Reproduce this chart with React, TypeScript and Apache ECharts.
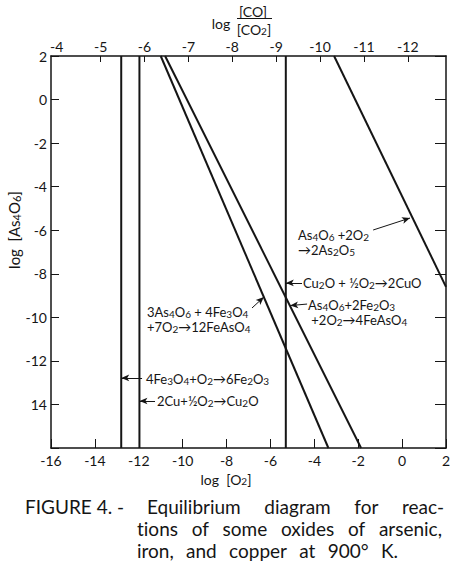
import React, { useEffect, useRef } from "react";
import * as echarts from "echarts";

// ---- axis ticks / labels ----
const yLabelMap: Record<string, string> = {
  "2": "2", "0": "0", "-2": "-2", "-4": "-4", "-6": "-6", "-8": "-8",
  "-10": "-10", "-12": "-12", "-14": "14", "-16": "",
};
const topTickValues = [-5, -6, -7, -8, -9, -10, -11, -12];
const topLabelValues = [-4, -5, -6, -7, -8, -9, -10, -11, -12];

// ---- equilibrium lines (log O2, log As4O6) ----
const feO2 = [-12.8, -12.8];
const feAs = [2, -16];
const cuO2 = [-11.97, -11.97];
const cuAs = [2, -16];
const cuoO2 = [-5.3, -5.3];
const cuoAs = [2, -16];
const fe3o4AsO2 = [-11.0, -3.36];
const fe3o4AsAs = [2, -16];
const fe2o3AsO2 = [-10.8, -1.87];
const fe2o3AsAs = [2, -16];
const as2o5O2 = [-3.1, 2];
const as2o5As = [2, -8.6];

// ---- annotation arrows [fromX, fromY, toX, toY] in data units ----
const arrowAs2o5 = [-1.32, -5.99, 0.36, -5.44];
const arrowCuo = [-4.56, -8.42, -5.3, -8.42];
const arrowFe2o3 = [-4.33, -9.39, -5.1, -9.46];
const arrowFe3o4As = [-6.84, -9.57, -6.3, -9.07];
const arrowFe = [-11.85, -12.78, -12.8, -12.78];
const arrowCu = [-11.26, -13.84, -11.97, -13.84];

// ---- reaction labels ("_d" = subscript digit) ----
const labelAs2o5 = "As_4O_6 +2O_2\n→2As_2O_5";
const labelCuo = "Cu_2O + ½O_2→2CuO";
const labelFe2o3As = "As_4O_6+2Fe_2O_3\n +2O_2→4FeAsO_4";
const labelFe3o4As = "3As_4O_6 + 4Fe_3O_4\n+7O_2→12FeAsO_4";
const labelFe = "4Fe_3O_4+O_2→6Fe_2O_3";
const labelCu = "2Cu+½O_2→Cu_2O";

// ---- caption ----
const captionLead = "FIGURE 4. -";
const captionRow1 = "Equilibrium diagram for reac-";
const captionRow2 = "t\u200Cions of some oxides of arsenic,";
const captionRow3 = "iron, and copper at 900° K.";

const INK = "#151515";
const FONT = "Lato, 'DejaVu Sans', sans-serif";
const CAP_SIZE = 19;
const TICK_SIZE = 14;

const zip = (a: number[], b: number[]) => a.map((v, i) => [v, b[i]]);
const toRich = (s: string) => s.replace(/_(\d)/g, "{s|$1}");

const arrowPair = (a: number[]) => [
  { coord: [a[0], a[1]], symbol: "none" },
  { coord: [a[2], a[3]], symbol: "arrow", symbolSize: [5, 8] },
];

function txt(
  text: string, x: number, y: number, size = 13, align = "left",
  rotation = 0, lineHeight?: number, subSize = 10, subPad = 4,
) {
  const lh = lineHeight ?? Math.round(size * 1.2);
  return {
    type: "text",
    x,
    y,
    rotation,
    style: {
      text: toRich(text),
      fill: INK,
      fontSize: size,
      fontFamily: FONT,
      lineHeight: lh,
      textAlign: align,
      textVerticalAlign: "middle",
      align,
      verticalAlign: "middle",
      rich: {
        s: { fontSize: subSize, fontFamily: FONT, fill: INK, lineHeight: lh, padding: [subPad, 0, 0, 0] },
      },
    },
    z: 100,
  };
}

// justify words of a row between left and right pixel edges
function justifyRow(row: string, left: number, right: number, y: number, size: number) {
  const words = row.split(" ");
  const canvas = document.createElement("canvas");
  const ctx = canvas.getContext("2d")!;
  ctx.font = `${size}px ${FONT}`;
  const widths = words.map((w) => ctx.measureText(w).width);
  const total = widths.reduce((a, b) => a + b, 0);
  const gap = words.length > 1 ? (right - left - total) / (words.length - 1) : 0;
  let x = left;
  return words.map((w, i) => {
    const el = txt(w, x, y, size, "left", 0, 20);
    x += widths[i] + gap;
    return el;
  });
}

export default function App() {
  const ref = useRef<HTMLDivElement>(null);
  useEffect(() => {
    if (!ref.current) return;
    const chart = echarts.init(ref.current, null, { renderer: "svg" });
    const lineSeries = (data: number[][]) => ({
      type: "line",
      xAxisIndex: 0,
      yAxisIndex: 0,
      data,
      symbol: "none",
      lineStyle: { color: INK, width: 2 },
      silent: true,
    });
    const axisLine = { show: true, onZero: false, lineStyle: { color: INK, width: 1.5 } };
    chart.setOption({
      animation: false,
      backgroundColor: "#ffffff",
      grid: { left: 51, right: 9, top: 56, bottom: 128, containLabel: false },
      xAxis: [
        {
          type: "value",
          position: "bottom",
          min: -16,
          max: 2,
          interval: 2,
          axisLine,
          axisTick: { show: true, inside: true, length: 9, lineStyle: { color: INK, width: 1 } },
          axisLabel: { color: INK, fontSize: TICK_SIZE, fontFamily: FONT, margin: 5 },
          splitLine: { show: false },
        },
        {
          type: "value",
          position: "top",
          inverse: true,
          min: -12.87,
          max: -3.87,
          axisLine,
          axisTick: { show: true, inside: true, length: 6, customValues: topTickValues, lineStyle: { color: INK, width: 1 } },
          axisLabel: {
            color: INK, fontSize: TICK_SIZE, fontFamily: FONT, margin: 3,
            customValues: topLabelValues,
            formatter: (v: number) => String(v),
          },
          splitLine: { show: false },
        },
      ],
      yAxis: [
        {
          type: "value",
          position: "left",
          min: -16,
          max: 2,
          interval: 2,
          axisLine,
          axisTick: { show: true, inside: true, length: 8, lineStyle: { color: INK, width: 1 } },
          axisLabel: {
            color: INK, fontSize: TICK_SIZE, fontFamily: FONT, margin: 4,
            formatter: (v: number) => yLabelMap[String(v)] ?? String(v),
          },
          splitLine: { show: false },
        },
        {
          type: "value",
          position: "right",
          min: -16,
          max: 2,
          interval: 2,
          axisLine,
          axisTick: { show: true, inside: true, length: 11, lineStyle: { color: INK, width: 1 } },
          axisLabel: { show: false },
          splitLine: { show: false },
        },
      ],
      series: [
        lineSeries(zip(feO2, feAs)),
        lineSeries(zip(cuO2, cuAs)),
        lineSeries(zip(cuoO2, cuoAs)),
        lineSeries(zip(fe3o4AsO2, fe3o4AsAs)),
        lineSeries(zip(fe2o3AsO2, fe2o3AsAs)),
        {
          ...lineSeries(zip(as2o5O2, as2o5As)),
          markLine: {
            silent: true,
            symbol: ["none", "arrow"],
            symbolSize: [5, 8],
            label: { show: false },
            lineStyle: { color: INK, width: 1, type: "solid" },
            data: [arrowAs2o5, arrowCuo, arrowFe2o3, arrowFe3o4As, arrowFe, arrowCu].map(arrowPair),
          },
        },
      ],
      graphic: [
        // top axis name
        txt("log", 221, 23, 14, "center"),
        txt("[CO]", 253, 11, 14, "center"),
        { type: "line", shape: { x1: 237, y1: 18.5, x2: 272, y2: 18.5 }, style: { stroke: INK, lineWidth: 1.2 } },
        txt("[CO_2]", 254, 29, 14, "center", 0, 16),
        // y axis name
        txt("log  [As_4O_6]", 14, 230, 15, "center", Math.PI / 2, 17, 11),
        // x axis name
        txt("log  [O_2]", 226, 479, 14, "center", 0, 16),
        // reaction labels
        txt(labelAs2o5, 298, 242, 13, "left", 0, 15),
        txt(labelCuo, 303, 283, 13, "left", 0, 15),
        txt(labelFe2o3As, 308, 312, 13, "left", 0, 15),
        txt(labelFe3o4As, 147, 319, 13, "left", 0, 15),
        txt(labelFe, 146, 379, 13, "left", 0, 15),
        txt(labelCu, 157, 401, 13, "left", 0, 15),
        // caption
        txt(captionLead, 25, 506, CAP_SIZE, "left", 0, 22),
        ...justifyRow(captionRow1, 147, 444, 506, CAP_SIZE),
        ...justifyRow(captionRow2, 137, 442, 528, CAP_SIZE),
        ...justifyRow(captionRow3, 137, 398, 550, CAP_SIZE),
      ],
    });
    return () => chart.dispose();
  }, []);
  return (
    <div
      ref={ref}
      style={{ position: "fixed", left: 0, top: 0, width: 455, height: 576, background: "#fff" }}
    />
  );
}
